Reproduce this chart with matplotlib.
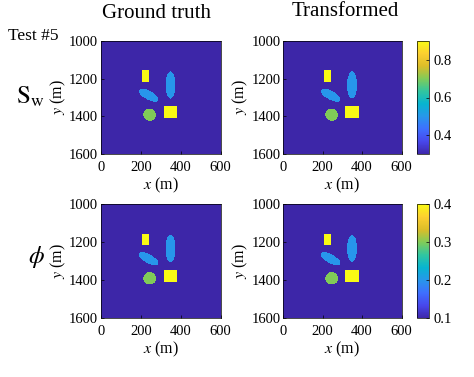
import numpy as np
import matplotlib
matplotlib.use("Agg")
import matplotlib.pyplot as plt
from matplotlib.colors import LinearSegmentedColormap

plt.rcParams['font.family'] = ['Liberation Serif', 'DejaVu Serif']
plt.rcParams['mathtext.fontset'] = 'stix'

# ---- data ----
x_extent = [0, 600]
y_extent = [1000, 1600]
x_ticks = [0, 200, 400, 600]
y_ticks = [1000, 1200, 1400, 1600]

# shapes: rectangles (x0, x1, y0, y1)
rect_small = [205, 240, 1160, 1220]
rect_big = [316, 383, 1350, 1412]
# ellipses: (cx, cy, a, b, angle_deg)
ellipse_vert = [349, 1237, 25, 72, 0]
ellipse_tilt = [239, 1291, 55, 23, 30]
circle = [244, 1394, 32]

# property values: background, ellipses, circle, rectangles
sw_values = [0.30, 0.50, 0.70, 0.90]
phi_values = [0.10, 0.20, 0.30, 0.40]
sw_clim = [0.30, 0.90]
phi_clim = [0.10, 0.40]
sw_cticks = [0.4, 0.6, 0.8]
phi_cticks = [0.1, 0.2, 0.3, 0.4]

col_titles = ["Ground truth", "Transformed"]

# parula-like colormap
parula_pts = [
    (0.2422, 0.1504, 0.6603),
    (0.2803, 0.2782, 0.9221),
    (0.2440, 0.4358, 0.9988),
    (0.1540, 0.5902, 0.9218),
    (0.0297, 0.7082, 0.8163),
    (0.1938, 0.7758, 0.6251),
    (0.5044, 0.7993, 0.3480),
    (0.8634, 0.7406, 0.1596),
    (0.9892, 0.8136, 0.1885),
    (0.9769, 0.9839, 0.0805),
]
parula = LinearSegmentedColormap.from_list("parula", parula_pts)


def build_field(vals, n=240):
    xs = np.linspace(x_extent[0], x_extent[1], n)
    ys = np.linspace(y_extent[0], y_extent[1], n)
    X, Y = np.meshgrid(xs, ys)
    F = np.full(X.shape, vals[0])
    for cx, cy, a, b, ang in (ellipse_vert, ellipse_tilt):
        t = np.deg2rad(ang)
        dx, dy = X - cx, Y - cy
        u = dx * np.cos(t) + dy * np.sin(t)
        v = -dx * np.sin(t) + dy * np.cos(t)
        F[(u / a) ** 2 + (v / b) ** 2 <= 1] = vals[1]
    cx, cy, r = circle
    F[(X - cx) ** 2 + (Y - cy) ** 2 <= r ** 2] = vals[2]
    for x0, x1, y0, y1 in (rect_small, rect_big):
        F[(X >= x0) & (X <= x1) & (Y >= y0) & (Y <= y1)] = vals[3]
    return F


W, H = 474, 377
fig = plt.figure(figsize=(W / 100, H / 100), dpi=100)


def fx(px):
    return px / W


def fy(py):
    return 1 - py / H


rows = [
    (sw_values, sw_clim, sw_cticks, 40.7, 154.3),
    (phi_values, phi_clim, phi_cticks, 204.0, 318.3),
]
lefts = [(101, 220.5), (283.3, 401.5)]

for r, (vals, clim, cticks, top, bot) in enumerate(rows):
    F = build_field(vals)
    for c, (l, rgt) in enumerate(lefts):
        ax = fig.add_axes([fx(l), fy(bot), fx(rgt - l), fy(top) - fy(bot)])
        im = ax.imshow(F, cmap=parula, vmin=clim[0], vmax=clim[1],
                       extent=[x_extent[0], x_extent[1], y_extent[1], y_extent[0]],
                       aspect='auto', interpolation='nearest')
        ax.set_xticks(x_ticks)
        ax.set_yticks(y_ticks)
        ax.set_xlim(x_extent)
        ax.set_ylim(y_extent[1], y_extent[0])
        ax.tick_params(direction='in', length=2, labelsize=10.5, pad=2, width=0.5)
        ax.tick_params(axis='x', pad=5)
        ax.set_xlabel(r'$x$ (m)', fontsize=11.5, labelpad=1)
        ax.set_ylabel(r'$y$ (m)', fontsize=11.5, labelpad=1)
        for s in ax.spines.values():
            s.set_linewidth(0.5)
        if c == 1:
            cax = fig.add_axes([fx(417), fy(bot), fx(12), fy(top) - fy(bot)])
            cb = fig.colorbar(im, cax=cax, ticks=cticks)
            cb.ax.tick_params(direction='in', length=2, labelsize=10.5, width=0.5)
            cb.outline.set_linewidth(0.5)

fig.text(fx(157), fy(14), col_titles[0], ha='center', va='center', fontsize=15)
fig.text(fx(345), fy(11), col_titles[1], ha='center', va='center', fontsize=15)
fig.text(fx(33), fy(36), "Test #5", ha='center', va='center', fontsize=12.5)
fig.text(fx(30), fy(97), r'$\mathrm{S}_\mathrm{w}$', ha='center', va='center', fontsize=18)
fig.text(fx(36), fy(257), r'$\phi$', ha='center', va='center', fontsize=18)

fig.savefig("out.png", dpi=100)
